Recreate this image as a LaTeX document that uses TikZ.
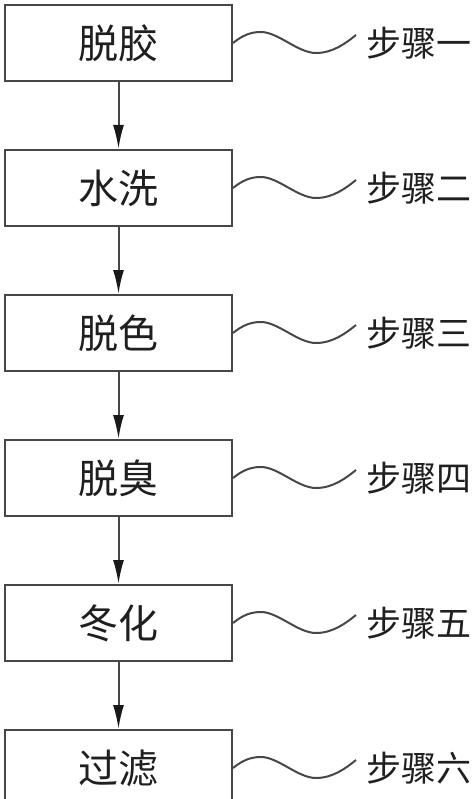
\documentclass[tikz,border=0pt]{standalone}
\usepackage{fontspec}
\newfontfamily\cjk{Noto Sans CJK SC}
\usetikzlibrary{positioning,arrows.meta}
\colorlet{linegray}{black!72}
\colorlet{textgray}{black!88}
\tikzset{>={Latex[length=24pt,width=11pt,black!90]}}
\tikzset{stepbox/.style={draw=linegray,line width=2pt,minimum width=227pt,minimum height=76pt,inner sep=0pt,font=\cjk\fontsize{40}{48}\selectfont,text=textgray}}
\tikzset{steplabel/.style={anchor=west,inner sep=0pt,font=\cjk\fontsize{35}{42}\selectfont,text=textgray}}

\begin{document}
\begin{tikzpicture}[x=1pt,y=-1pt]
  \useasboundingbox (0,0) rectangle (474,799);
  % process boxes
  \node[stepbox] (s1) at (118.5,43) {脱胶};
  \node[stepbox,below=67pt of s1] (s2) {水洗};
  \node[stepbox,below=67pt of s2] (s3) {脱色};
  \node[stepbox,below=67pt of s3] (s4) {脱臭};
  \node[stepbox,below=67pt of s4] (s5) {冬化};
  \node[stepbox,below=67pt of s5] (s6) {过滤};
  % arrows
  \foreach \a/\b in {s1/s2,s2/s3,s3/s4,s4/s5,s5/s6}
    \draw[->,linegray,line width=2pt] (\a) -- (\b);
  % wavy leaders and step labels
  \foreach \s/\n in {s1/一,s2/二,s3/三,s4/四,s5/五,s6/六} {
    \begin{scope}[shift={(\s.east)}]
      \draw[linegray,line width=2pt] (0,0) .. controls (10,-8) and (18,-11) .. (28,-11)
        .. controls (45,-11) and (65,10) .. (83,10)
        .. controls (100,10) and (113,0) .. (123,-8);
      \node[steplabel] (l\s) at (133,0) {步骤\n};
    \end{scope}
  }
\end{tikzpicture}
\end{document}
